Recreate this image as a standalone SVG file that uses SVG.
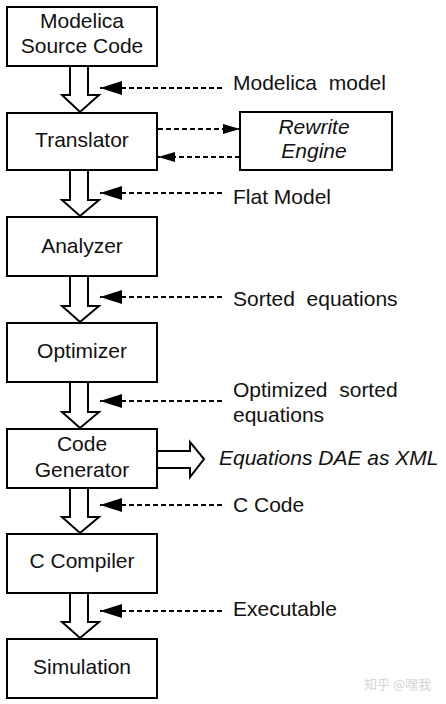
<svg xmlns="http://www.w3.org/2000/svg" width="446" height="704" viewBox="0 0 446 704">
<style>
.box{fill:#fff;stroke:#000;stroke-width:2}
.blk{fill:#fff;stroke:#000;stroke-width:2;stroke-linejoin:miter}
.t{font-family:"Liberation Sans",Arial,sans-serif;font-size:21px;fill:#111}
.c{text-anchor:middle}
.i{font-style:italic}
.dash{fill:none;stroke:#000;stroke-width:2;stroke-dasharray:5 3}
.wm{font-family:"Noto Sans CJK SC","Liberation Sans",sans-serif;font-size:13px;fill:#d4d4d4}
</style>
<defs>
<marker id="ah" markerUnits="userSpaceOnUse" markerWidth="22" markerHeight="16" refX="22" refY="8" orient="auto" viewBox="0 0 22 16">
<path d="M0,1 L22,8 L0,15 z" fill="#000"/>
</marker>
<marker id="ahs" markerUnits="userSpaceOnUse" markerWidth="17" markerHeight="12" refX="17" refY="6" orient="auto" viewBox="0 0 17 12">
<path d="M0,1 L17,6 L0,11 z" fill="#000"/>
</marker>
</defs>
<rect width="446" height="704" fill="#fff"/>

<g id="connectors">
<polygon class="blk" points="70,66 88,66 88,95 99,95 80,112 62,95 70,95"/>
<polygon class="blk" points="70,170 88,170 88,200 99,200 80,216 62,200 70,200"/>
<polygon class="blk" points="70,276 88,276 88,306 99,306 80,322 62,306 70,306"/>
<polygon class="blk" points="70,382 88,382 88,412 99,412 80,428 62,412 70,412"/>
<polygon class="blk" points="70,488 88,488 88,517 99,517 80,533 62,517 70,517"/>
<polygon class="blk" points="70,593 88,593 88,622 99,622 80,638 62,622 70,622"/>
<polygon class="blk" points="157,451 190,451 190,442 204,459 190,477 190,468 157,468"/>
<line class="dash" x1="222" y1="88" x2="100" y2="88" marker-end="url(#ah)"/>
<line class="dash" x1="222" y1="193" x2="100" y2="193" marker-end="url(#ah)"/>
<line class="dash" x1="222" y1="297" x2="100" y2="297" marker-end="url(#ah)"/>
<line class="dash" x1="222" y1="401" x2="100" y2="401" marker-end="url(#ah)"/>
<line class="dash" x1="222" y1="505" x2="100" y2="505" marker-end="url(#ah)"/>
<line class="dash" x1="222" y1="611" x2="100" y2="611" marker-end="url(#ah)"/>
<line class="dash" x1="158" y1="129" x2="240" y2="129" marker-end="url(#ahs)"/>
<line class="dash" x1="240" y1="157" x2="158" y2="157" marker-end="url(#ahs)"/>
</g>

<g id="source">
<rect class="box" x="7" y="7" width="150" height="59"/>
<text class="t c" x="82" y="28">Modelica</text>
<text class="t c" x="82" y="53">Source Code</text>
</g>
<g id="translator">
<rect class="box" x="7" y="113" width="150" height="57"/>
<text class="t c" x="82" y="147">Translator</text>
</g>
<g id="rewrite">
<rect class="box" x="240" y="112" width="152" height="58"/>
<text class="t c i" x="314" y="134">Rewrite</text>
<text class="t c i" x="314" y="158">Engine</text>
</g>
<g id="analyzer">
<rect class="box" x="7" y="217" width="150" height="59"/>
<text class="t c" x="82" y="253">Analyzer</text>
</g>
<g id="optimizer">
<rect class="box" x="7" y="323" width="150" height="59"/>
<text class="t c" x="82" y="358">Optimizer</text>
</g>
<g id="codegen">
<rect class="box" x="7" y="429" width="150" height="59"/>
<text class="t c" x="82" y="451">Code</text>
<text class="t c" x="82" y="477">Generator</text>
</g>
<g id="ccompiler">
<rect class="box" x="7" y="534" width="150" height="59"/>
<text class="t c" x="82" y="568">C Compiler</text>
</g>
<g id="simulation">
<rect class="box" x="7" y="639" width="150" height="59"/>
<text class="t c" x="82" y="674">Simulation</text>
</g>

<g id="labels">
<text class="t" x="233" y="90" xml:space="preserve">Modelica  model</text>
<text class="t" x="233" y="204">Flat Model</text>
<text class="t" x="233" y="306" xml:space="preserve">Sorted  equations</text>
<text class="t" x="233" y="397" xml:space="preserve">Optimized  sorted</text>
<text class="t" x="233" y="422">equations</text>
<text class="t i" x="219" y="465">Equations DAE as XML</text>
<text class="t" x="233" y="512">C Code</text>
<text class="t" x="233" y="616">Executable</text>
<text class="wm" x="364" y="689">知乎 @嘿我</text>
</g>
</svg>
